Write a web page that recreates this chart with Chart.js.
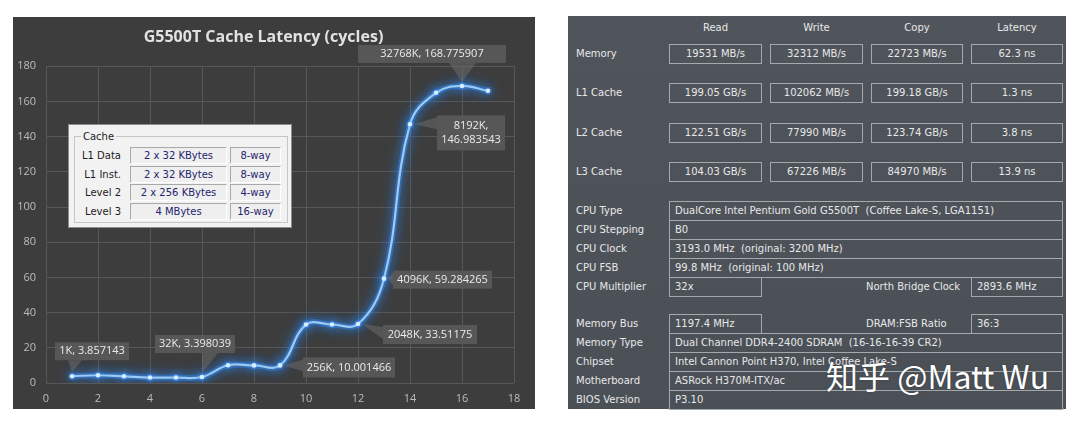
<!DOCTYPE html>
<html>
<head>
<meta charset="utf-8">
<title>G5500T Cache Latency</title>
<script src="https://cdn.jsdelivr.net/npm/chart.js@4.4.0/dist/chart.umd.min.js"></script>
<style>
  body { margin: 0; background: #fff; width: 1080px; height: 424px; position: relative; overflow: hidden; }
  #left { position: absolute; left: 13px; top: 17px; width: 522px; height: 392px; background: #3d3d3d; }
  #chart { position: absolute; left: 0; top: 0; }
  #cache { position: absolute; left: 55px; top: 107px; width: 222px; height: 102px; background: #f2f2f2;
           border: 1px solid #8c8c8c; font: 10px "DejaVu Sans", sans-serif; color: #1c1c1c; }
  #cache .fs { position: absolute; left: 5px; top: 11px; width: 212px; height: 85px; border: 1px solid #c6c6c6; }
  #cache .legend { position: absolute; left: 12px; top: 5px; padding: 0 2px; background: #f2f2f2; line-height: 13px; }
  #cache .lab { position: absolute; width: 50px; text-align: right; line-height: 17px; }
  #cache .cell { position: absolute; height: 15px; line-height: 15px; text-align: center; color: #24246e;
                 border: 1px solid; border-color: #a8a8a8 #fff #fff #a8a8a8; background: #efefef; }
  #right { position: absolute; left: 568px; top: 16px; width: 498px; height: 393px;
           background: linear-gradient(180deg, #50555c 0%, #4b5057 100%);
           font: 10px "DejaVu Sans", sans-serif; color: #e8e8e8; }
  #right div { position: absolute; white-space: pre; }
  #right .head { width: 93px; text-align: center; line-height: 14px; }
  #right .lab { line-height: 20px; }
  #right .box { box-sizing: border-box; height: 20px; line-height: 18px; border: 1px solid #a4a9ae; }
  #right .c { text-align: center; }
  #right .l { padding-left: 5px; }
  #mark { position: absolute; left: 826px; top: 360px; font: 32px "Noto Sans CJK SC", sans-serif; line-height: 31px;
          color: #fff; white-space: pre; text-shadow: 0 0 2px rgba(0,0,0,0.35); }
</style>
</head>
<body>
<div id="left">
  <canvas id="chart" width="522" height="392"></canvas>
  <div id="cache"><div class="fs"></div><div class="legend">Cache</div></div>
</div>
<div id="right"></div>
<div id="mark">知乎 @Matt Wu</div>
<script>
// latency test: x position, block size and measured cycles
const xIndex = [1, 2, 3, 4, 5, 6, 7, 8, 9, 10, 11, 12, 13, 14, 15, 16, 17];
const blockSizes = ['1K', '2K', '4K', '8K', '16K', '32K', '64K', '128K', '256K', '512K',
  '1024K', '2048K', '4096K', '8192K', '16384K', '32768K', '65536K'];
const latencyCycles = [3.857143, 4.4, 3.8, 3.1, 3.1, 3.398039, 10.1, 10.0, 10.001466, 33.2,
  33.2, 33.51175, 59.284265, 146.983543, 164.9, 168.775907, 166.0];
const xTicks = [0, 18, 2];
const yTicks = [0, 180, 20];

// cache table (CPU-Z)
const cacheLevels = ['L1 Data', 'L1 Inst.', 'Level 2', 'Level 3'];
const cacheSizes = ['2 x 32 KBytes', '2 x 32 KBytes', '2 x 256 KBytes', '4 MBytes'];
const cacheWays = ['8-way', '8-way', '4-way', '16-way'];

// AIDA64 cache & memory benchmark
const benchCols = ['Read', 'Write', 'Copy', 'Latency'];
const benchRows = ['Memory', 'L1 Cache', 'L2 Cache', 'L3 Cache'];
const benchValues = [
  ['19531 MB/s', '32312 MB/s', '22723 MB/s', '62.3 ns'],
  ['199.05 GB/s', '102062 MB/s', '199.18 GB/s', '1.3 ns'],
  ['122.51 GB/s', '77990 MB/s', '123.74 GB/s', '3.8 ns'],
  ['104.03 GB/s', '67226 MB/s', '84970 MB/s', '13.9 ns'],
];
const cpuLabels = ['CPU Type', 'CPU Stepping', 'CPU Clock', 'CPU FSB', 'CPU Multiplier'];
const cpuValues = ['DualCore Intel Pentium Gold G5500T  (Coffee Lake-S, LGA1151)', 'B0',
  '3193.0 MHz  (original: 3200 MHz)', '99.8 MHz  (original: 100 MHz)', '32x'];
const memLabels = ['Memory Bus', 'Memory Type', 'Chipset', 'Motherboard', 'BIOS Version'];
const memValues = ['1197.4 MHz', 'Dual Channel DDR4-2400 SDRAM  (16-16-16-39 CR2)',
  'Intel Cannon Point H370, Intel Coffee Lake-S', 'ASRock H370M-ITX/ac', 'P3.10'];
const sideLabels = ['North Bridge Clock', 'DRAM:FSB Ratio'];
const sideValues = ['2893.6 MHz', '36:3'];

// where each data callout sits relative to its point
const callouts = [
  { i: 0, dx: -17, dy: -34, w: 74, h: 18, tail: 'down', t0: -4, t1: 10 },
  { i: 5, dx: -47, dy: -42, w: 80, h: 18, tail: 'down', t0: 0, t1: 16 },
  { i: 8, dx: 23, dy: -8, w: 92, h: 20, tail: 'left' },
  { i: 11, dx: 25, dy: 1, w: 94, h: 19, tail: 'left' },
  { i: 12, dx: 9, dy: -8, w: 99, h: 18, tail: 'left' },
  { i: 13, dx: 27, dy: -9, w: 68, h: 35, tail: 'left', split: true },
  { i: 15, dx: -104, dy: -41, w: 148, h: 18, tail: 'down', t0: -13, t1: 14 },
];

const glowAndCallouts = {
  id: 'glowAndCallouts',
  beforeDatasetDraw(chart, args) {
    const ctx = chart.ctx;
    ctx.save();
    ctx.shadowColor = 'rgba(45,140,255,1)';
    ctx.shadowBlur = args.index === 0 ? 10 : 14;
  },
  afterDatasetDraw(chart) {
    chart.ctx.restore();
  },
  afterDatasetsDraw(chart) {
    const ctx = chart.ctx;
    const pts = chart.getDatasetMeta(0).data;
    ctx.save();
    ctx.font = '11px "Open Sans"';
    ctx.textAlign = 'center';
    ctx.textBaseline = 'middle';
    callouts.forEach(c => {
      const p = pts[c.i];
      const bx = p.x + c.dx, by = p.y + c.dy;
      ctx.fillStyle = 'rgba(110,110,110,0.5)';
      ctx.beginPath();
      if (c.tail === 'down') {
        ctx.moveTo(p.x + c.t0, by + c.h);
        ctx.lineTo(p.x + c.t1, by + c.h);
        ctx.lineTo(p.x, p.y - 4);
      } else {
        ctx.moveTo(bx, by + 2);
        ctx.lineTo(bx, by + Math.min(c.h - 2, 14));
        ctx.lineTo(p.x + 4, p.y);
      }
      ctx.closePath();
      ctx.fill();
      ctx.fillStyle = 'rgba(88,88,88,0.96)';
      ctx.fillRect(bx, by, c.w, c.h);
      const lines = c.split
        ? [blockSizes[c.i] + ',', String(latencyCycles[c.i])]
        : [blockSizes[c.i] + ', ' + latencyCycles[c.i]];
      ctx.fillStyle = '#ececec';
      lines.forEach((t, k) => {
        ctx.fillText(t, bx + c.w / 2, by + c.h / 2 + (k - (lines.length - 1) / 2) * 14);
      });
    });
    ctx.restore();
  },
};

const tickFont = { family: 'Open Sans', size: 11 };
const points = xIndex.map((x, k) => ({ x, y: latencyCycles[k] }));

new Chart(document.getElementById('chart'), {
  type: 'line',
  data: {
    datasets: [{
      data: points,
      borderColor: '#9ccbf6',
      borderWidth: 2.2,
      tension: 0.4,
      pointRadius: 2.3,
      pointBorderWidth: 0,
      pointBackgroundColor: '#d8ecff',
      order: 1,
    }, {
      // soft blue halo under the line
      data: points,
      borderColor: 'rgba(55,135,235,0.45)',
      borderWidth: 6,
      tension: 0.4,
      pointRadius: 4,
      pointBorderWidth: 0,
      pointBackgroundColor: 'rgba(55,135,235,0.45)',
      order: 2,
    }],
  },
  options: {
    responsive: false,
    animation: false,
    layout: { padding: { left: 0, right: 21, top: 0, bottom: 0 } },
    plugins: {
      legend: { display: false },
      tooltip: { enabled: false },
      title: {
        display: true,
        text: 'G5500T Cache Latency (cycles)',
        color: '#e2e2e2',
        font: { family: 'Open Sans', size: 16, weight: 'bold' },
        padding: { top: 11, bottom: 19 },
      },
    },
    scales: {
      x: {
        type: 'linear', min: xTicks[0], max: xTicks[1],
        ticks: { stepSize: xTicks[2], color: '#bcbcbc', font: tickFont, padding: 9 },
        grid: { color: '#575757', drawTicks: false },
        border: { display: false },
        afterFit(s) { s.height = 26; },
      },
      y: {
        min: yTicks[0], max: yTicks[1],
        ticks: { stepSize: yTicks[2], color: '#bcbcbc', font: tickFont, padding: 10 },
        grid: { color: '#575757', drawTicks: false },
        border: { display: false },
        afterFit(s) { s.width = 33; },
      },
    },
  },
  plugins: [glowAndCallouts],
});

// cache inset
const cache = document.getElementById('cache');
cacheLevels.forEach((lv, r) => {
  const top = 22 + r * 18.7;
  cache.insertAdjacentHTML('beforeend',
    `<div class="lab" style="left:2px;top:${top}px">${lv}</div>` +
    `<div class="cell" style="left:61px;top:${top}px;width:95px">${cacheSizes[r]}</div>` +
    `<div class="cell" style="left:161px;top:${top}px;width:49px">${cacheWays[r]}</div>`);
});

// benchmark panel
const right = document.getElementById('right');
const add = (cls, left, top, width, text) => {
  const d = document.createElement('div');
  d.className = cls;
  d.style.left = left + 'px';
  d.style.top = top + 'px';
  if (width) d.style.width = width + 'px';
  d.textContent = text;
  right.appendChild(d);
};
const colLeft = [101, 202, 303, 403];
const colWidth = [93, 93, 92, 92];
benchCols.forEach((c, k) => add('head', colLeft[k], 5, colWidth[k], c));
benchRows.forEach((r, j) => {
  const top = [28, 67, 107, 146][j];
  add('lab', 8, top, 0, r);
  benchValues[j].forEach((v, k) => add('box c', colLeft[k], top, colWidth[k], v));
});
cpuLabels.forEach((l, j) => {
  const top = 185 + j * 19;
  add('lab', 8, top, 0, l);
  add('box l', 101, top, j === 4 ? 93 : 394, cpuValues[j]);
});
memLabels.forEach((l, j) => {
  const top = 298 + j * 19;
  add('lab', 8, top, 0, l);
  add('box l', 101, top, j === 0 ? 93 : 394, memValues[j]);
});
[261, 298].forEach((top, k) => {
  add('lab', 298, top, 0, sideLabels[k]);
  add('box l', 403, top, 92, sideValues[k]);
});
</script>
</body>
</html>
